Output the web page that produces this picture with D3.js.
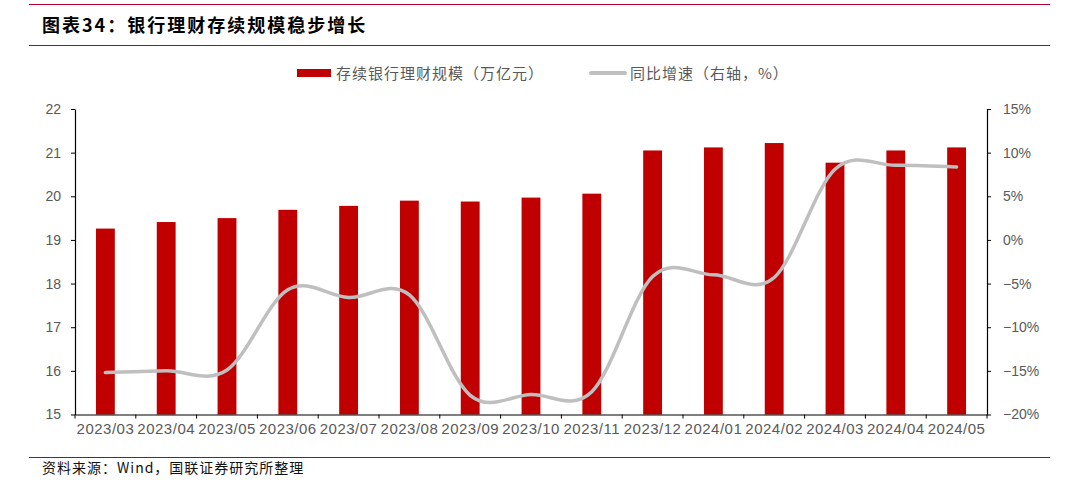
<!DOCTYPE html>
<html>
<head>
<meta charset="utf-8">
<script src="https://cdn.jsdelivr.net/npm/d3@7"></script>
<style>
  body { margin: 0; background: #fff; }
  text { font-family: "Liberation Sans", Arial, sans-serif; }
  .cjk { font-family: "Noto Sans CJK SC", sans-serif; }
</style>
</head>
<body>
<div id="chart"></div>
<script>
var months = ['2023/03','2023/04','2023/05','2023/06','2023/07','2023/08','2023/09','2023/10',
  '2023/11','2023/12','2024/01','2024/02','2024/03','2024/04','2024/05']
// 存续银行理财规模（万亿元）
var scaleValues = [19.26,19.41,19.50,19.69,19.78,19.90,19.88,19.97,20.06,21.05,21.12,21.22,20.77,21.05,21.12]
// 同比增速（%）
var yoyValues = [-15.2,-15.0,-14.9,-5.7,-6.6,-6.3,-17.8,-17.7,-17.4,-4.2,-4.0,-4.3,8.1,8.55,8.36]
var leftTicks = [15,16,17,18,19,20,21,22]
var rightTicks = [-20,-15,-10,-5,0,5,10,15]

;(function() {
  var W = 1080, H = 491
  var plotL = 75, plotR = 987, plotT = 109, plotB = 414.5
  var red = '#C00000', grey = '#BFBFBF', rule = '#B5002E', labelColor = '#595959'

  var svg = d3.select('#chart').append('svg')
    .attr('width', W)
    .attr('height', H)

  // header / footer rules
  ;[4.5, 45.5, 457.5].forEach(function(yy) {
    svg.append('line').attr('x1', 29).attr('x2', 1050).attr('y1', yy).attr('y2', yy)
      .attr('stroke', rule).attr('stroke-width', 1)
  })

  svg.append('text')
    .attr('class', 'cjk')
    .attr('x', 42).attr('y', 32)
    .attr('font-size', 18).attr('font-weight', 700)
    .attr('letter-spacing', 2)
    .attr('fill', '#000')
    .text('图表34：银行理财存续规模稳步增长')

  svg.append('text')
    .attr('class', 'cjk')
    .attr('x', 42).attr('y', 473)
    .attr('font-size', 14)
    .attr('letter-spacing', 1)
    .attr('fill', '#111')
    .text('资料来源：Wind，国联证券研究所整理')

  // legend
  var legend = svg.append('g')
  legend.append('rect').attr('x', 297).attr('y', 69).attr('width', 34).attr('height', 8).attr('fill', red)
  legend.append('text').attr('class', 'cjk')
    .attr('x', 336).attr('y', 79).attr('font-size', 15).attr('letter-spacing', 1)
    .attr('fill', labelColor).text('存续银行理财规模（万亿元）')
  legend.append('line').attr('x1', 591).attr('x2', 625).attr('y1', 73).attr('y2', 73)
    .attr('stroke', grey).attr('stroke-width', 4).attr('stroke-linecap', 'round')
  legend.append('text').attr('class', 'cjk')
    .attr('x', 630).attr('y', 79).attr('font-size', 15).attr('letter-spacing', 1)
    .attr('fill', labelColor).text('同比增速（右轴，%）')

  // scales
  var x = d3.scaleBand().domain(months).range([plotL, plotR]).padding(0)
  var yLeft = d3.scaleLinear().domain([15, 22]).range([plotB, plotT])
  var yRight = d3.scaleLinear().domain([-20, 15]).range([plotB, plotT])
  var barW = x.bandwidth() * 0.31

  // bars
  svg.append('g')
    .selectAll('rect')
    .data(scaleValues)
    .enter().append('rect')
    .attr('x', (d, i) => x(months[i]) + x.bandwidth() / 2 - barW / 2)
    .attr('y', d => yLeft(d))
    .attr('width', barW)
    .attr('height', d => yLeft(15) - yLeft(d))
    .attr('fill', red)

  // yoy line
  var line = d3.line()
    .x((d, i) => x(months[i]) + x.bandwidth() / 2)
    .y(d => yRight(d))
    .curve(d3.curveCardinal.tension(0))

  svg.append('path')
    .datum(yoyValues)
    .attr('d', line)
    .attr('fill', 'none')
    .attr('stroke', grey)
    .attr('stroke-width', 3.5)
    .attr('stroke-linecap', 'round')

  // axes
  var leftAxis = svg.append('g')
    .attr('transform', 'translate(' + plotL + ',0)')
    .call(d3.axisLeft(yLeft).tickValues(leftTicks).tickSize(4).tickSizeOuter(0).tickPadding(10)
      .tickFormat(d3.format('d')))
  var rightAxis = svg.append('g')
    .attr('transform', 'translate(' + plotR + ',0)')
    .call(d3.axisRight(yRight).tickValues(rightTicks).tickSize(4).tickSizeOuter(0).tickPadding(12)
      .tickFormat(d => d3.format('d')(d) + '%'))
  var xAxis = svg.append('g')
    .attr('transform', 'translate(0,' + plotB + ')')
    .call(d3.axisBottom(x).tickSize(0).tickSizeOuter(0).tickPadding(9))

  // boundary ticks on the category axis
  var bounds = months.map(m => x(m)).concat([x(months[months.length - 1]) + x.bandwidth()])
  xAxis.selectAll('.boundary')
    .data(bounds)
    .enter().append('line')
    .attr('class', 'boundary')
    .attr('x1', d => d).attr('x2', d => d)
    .attr('y1', 0).attr('y2', 4)
    .attr('stroke', '#000')

  ;[leftAxis, rightAxis, xAxis].forEach(function(g) {
    g.select('.domain').attr('stroke', '#000').attr('stroke-width', 1.2)
    g.selectAll('.tick line').attr('stroke', '#000')
    g.selectAll('.tick text')
      .attr('fill', labelColor)
      .attr('font-family', '"Liberation Sans", Arial, sans-serif')
      .attr('font-size', 14)
  })
  xAxis.selectAll('.tick text').attr('font-size', 15).attr('letter-spacing', 0.5)
})()
</script>
</body>
</html>
